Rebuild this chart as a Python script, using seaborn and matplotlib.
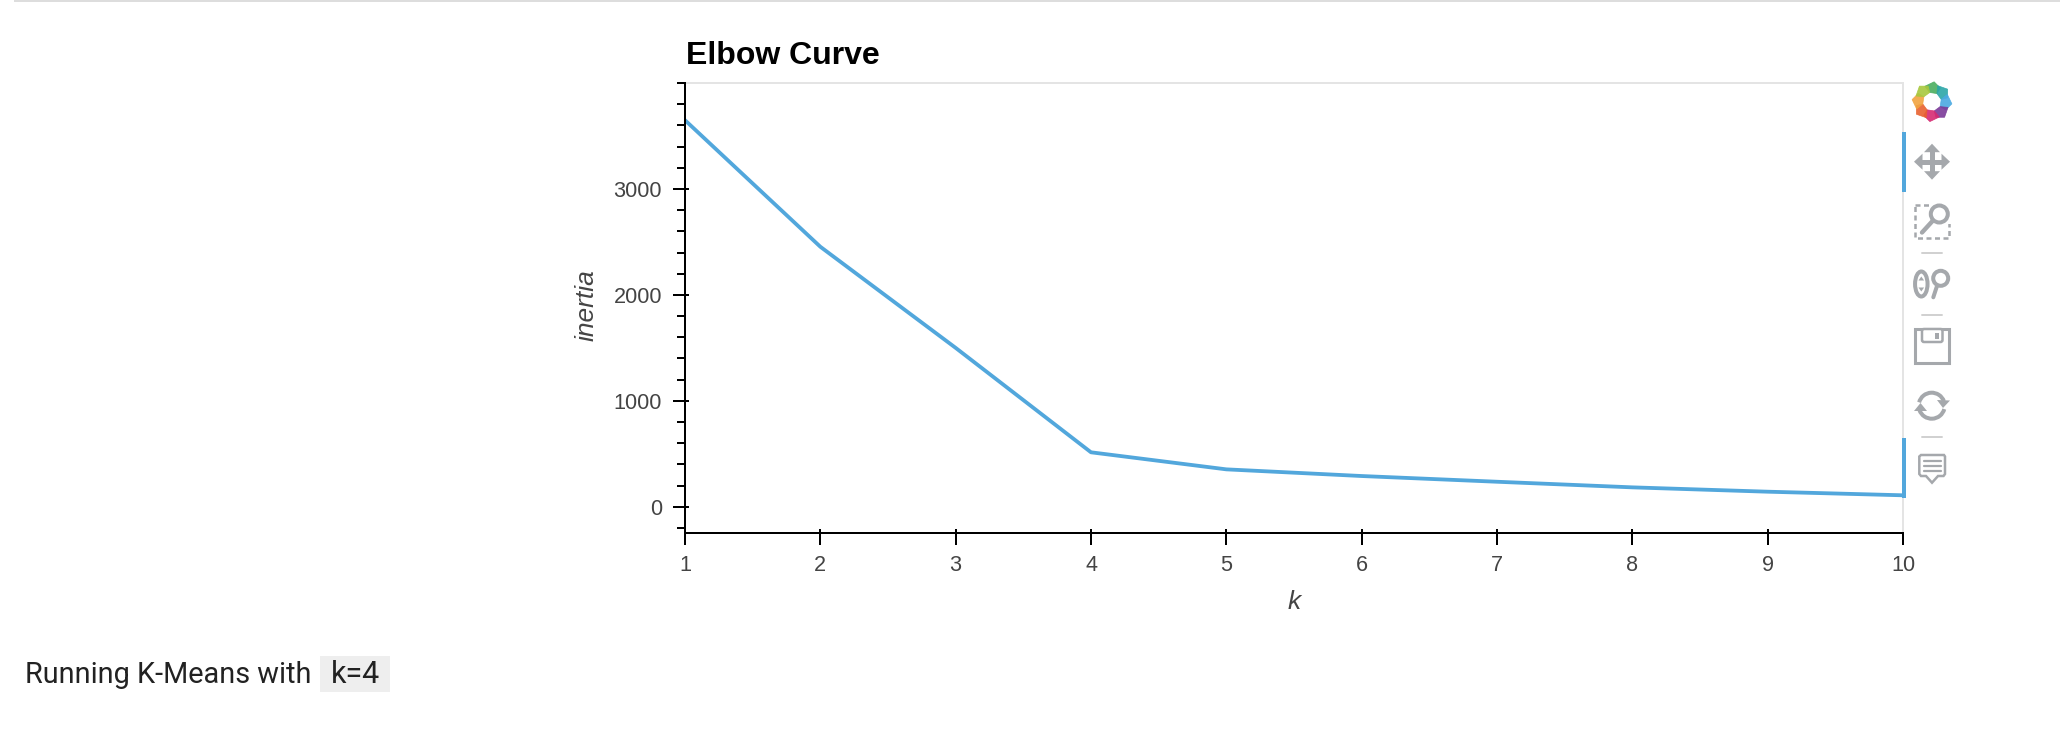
import numpy as np
import pandas as pd
import seaborn as sns
import matplotlib
matplotlib.use("Agg")
import matplotlib.pyplot as plt
from matplotlib.ticker import MultipleLocator
from matplotlib.patches import Rectangle, Circle, FancyBboxPatch, Polygon, Arc, Ellipse

k_values = [1, 2, 3, 4, 5, 6, 7, 8, 9, 10]
inertia_values = [3650, 2455, 1500, 514, 353, 290, 236, 183, 142, 108]
y_ticks = [0, 1000, 2000, 3000]
title_text = "Elbow Curve"
x_label = "k"
y_label = "inertia"

W, H = 2060, 730
sns.set_theme(style="white")
plt.rcParams["font.family"] = ["Liberation Sans", "DejaVu Sans"]

fig = plt.figure(figsize=(W / 100, H / 100), dpi=100, facecolor="white")
PX = 0.72
L, R, T, B = 685, 1903, 82.5, 533
ax = fig.add_axes([L / W, 1 - B / H, (R - L) / W, (B - T) / H])

df = pd.DataFrame({"k": k_values, "inertia": inertia_values})
sns.lineplot(data=df, x="k", y="inertia", ax=ax, color="#52A7DC", linewidth=3.8 * PX, solid_joinstyle="round")

ax.set_xlim(1, 10)
ax.set_ylim(-248, 4006)
ax.set_xticks(k_values)
ax.set_yticks(y_ticks)
ax.yaxis.set_minor_locator(MultipleLocator(200))

for s in ("top", "right"):
    ax.spines[s].set_color("#E4E4E4")
    ax.spines[s].set_linewidth(2 * PX)
for s in ("left", "bottom"):
    ax.spines[s].set_color("black")
    ax.spines[s].set_linewidth(2 * PX)
    ax.spines[s].set_zorder(5)

lab = "#444444"
ax.tick_params(axis="x", which="major", direction="out", length=12 * PX, width=2 * PX, color="black",
               labelsize=15.6, labelcolor=lab, pad=10 * PX, bottom=True)
ax.tick_params(axis="y", which="major", direction="out", length=12 * PX, width=2 * PX, color="black",
               labelsize=15.6, labelcolor=lab, pad=11 * PX, left=True)
ax.tick_params(axis="y", which="minor", direction="out", length=8 * PX, width=2 * PX, color="black", left=True)

secx = ax.secondary_xaxis("bottom")
secx.set_xticks(k_values)
secx.tick_params(direction="in", length=4 * PX, width=2 * PX, color="black", labelbottom=False)
secx.spines["bottom"].set_visible(False)
secy = ax.secondary_yaxis("left")
secy.set_yticks(y_ticks)
secy.tick_params(direction="in", length=4 * PX, width=2 * PX, color="black", labelleft=False)
secy.spines["left"].set_visible(False)

ax.set_xlabel(x_label, style="italic", fontsize=19, color=lab, labelpad=10)
ax.set_ylabel(y_label, style="italic", fontsize=19, color=lab, labelpad=11, y=0.505)
ax.set_title(title_text, loc="left", fontsize=23, fontweight="bold", color="black", pad=13, x=0.0005)

# page furniture drawn in pixel coordinates
ov = fig.add_axes([0, 0, 1, 1], facecolor="none")
ov.set_xlim(0, W)
ov.set_ylim(H, 0)
ov.axis("off")

ov.add_patch(Rectangle((14, 0), W - 14, 2, fc="#DDDDDD", ec="none"))
ov.add_patch(Rectangle((320, 656), 70, 36, fc="#EEEEEE", ec="none"))
ov.text(25, 683, "Running K-Means with", family="Roboto", fontsize=20.8, color="#222222", va="baseline", ha="left")
ov.text(331, 683, "k=4", family="Roboto", fontsize=22, color="#222222", va="baseline", ha="left")

# active tool markers
blue = "#52A7DC"
ov.add_patch(Rectangle((1902, 131.7), 4, 60, fc=blue, ec="none"))
ov.add_patch(Rectangle((1902, 437.7), 4, 60, fc=blue, ec="none"))

# logo
petals = ["#4BAE5F", "#2BA6A8", "#4AA9E2", "#7B3A98", "#D62A72", "#E8622F", "#F1A340", "#A8C83E"]
cx, cy = 1932, 101.7
for i, c in enumerate(petals):
    a0 = np.deg2rad(-90 - 22.5 + 45 * i)
    a1 = a0 + np.deg2rad(45)
    pts = [(cx + 9.5 * np.cos(a0 + 0.15), cy + 9.5 * np.sin(a0 + 0.15)),
           (cx + 17 * np.cos(a0 - 0.05), cy + 17 * np.sin(a0 - 0.05)),
           (cx + 20 * np.cos(a0 + 0.5), cy + 20 * np.sin(a0 + 0.5)),
           (cx + 16 * np.cos(a1 + 0.15), cy + 16 * np.sin(a1 + 0.15)),
           (cx + 9.5 * np.cos(a1 + 0.15), cy + 9.5 * np.sin(a1 + 0.15))]
    ov.add_patch(Polygon(pts, closed=True, fc=c, ec=c, lw=0.5, alpha=0.9))

g = "#A5A8AC"
lw2 = 4 * PX
# pan
cx, cy = 1932, 161.7
ov.plot([cx - 12, cx + 12], [cy, cy], color=g, lw=5 * PX, solid_capstyle="butt")
ov.plot([cx, cx], [cy - 12, cy + 12], color=g, lw=5 * PX, solid_capstyle="butt")
for dx, dy in [(1, 0), (-1, 0), (0, 1), (0, -1)]:
    tip = (cx + 18 * dx, cy + 18 * dy)
    b1 = (cx + 9.5 * dx + 8 * dy, cy + 9.5 * dy + 8 * dx)
    b2 = (cx + 9.5 * dx - 8 * dy, cy + 9.5 * dy - 8 * dx)
    ov.add_patch(Polygon([tip, b1, b2], closed=True, fc=g, ec="none"))
# box zoom
ov.add_patch(Rectangle((1915.3, 205), 33.4, 33.4, fc="none", ec=g, lw=1.8, ls=(0, (2, 1.4))))
ov.add_patch(Rectangle((1929, 202), 22, 22, fc="white", ec="none"))
ov.add_patch(Circle((1939.3, 214), 8.5, fc="white", ec=g, lw=lw2))
ov.plot([1933, 1922], [220.5, 232.5], color=g, lw=lw2 * 1.1, solid_capstyle="round")
# separators
for yy in (252.7, 315, 437):
    ov.plot([1922, 1942], [yy, yy], color="#D0D0D0", lw=1.4)
# wheel zoom
ov.add_patch(Ellipse((1921.3, 284), 12.5, 25, fc="white", ec=g, lw=lw2))
ov.add_patch(Polygon([(1921.3, 276.5), (1918.5, 280.5), (1924.1, 280.5)], fc=g, ec="none"))
ov.add_patch(Polygon([(1921.3, 291.5), (1918.5, 287.5), (1924.1, 287.5)], fc=g, ec="none"))
ov.add_patch(Circle((1940.7, 278.3), 7.5, fc="white", ec=g, lw=lw2))
ov.plot([1937, 1933.3], [286, 297.3], color=g, lw=lw2, solid_capstyle="round")
# save
ov.add_patch(Rectangle((1915.3, 329), 33.4, 33.6, fc="white", ec=g, lw=2.2))
ov.add_patch(FancyBboxPatch((1922, 329), 20.5, 13, boxstyle="round,pad=0,rounding_size=2", fc="white", ec=g, lw=1.8))
ov.add_patch(Rectangle((1934.5, 333), 4.5, 6, fc=g, ec="none"))
# reset
ov.add_patch(Arc((1931.7, 405.7), 26, 26, theta1=195, theta2=340, ec=g, lw=lw2))
ov.add_patch(Arc((1931.7, 405.7), 26, 26, theta1=15, theta2=160, ec=g, lw=lw2))
ov.add_patch(Polygon([(1943, 408), (1950, 400.5), (1937, 400)], fc=g, ec="none"))
ov.add_patch(Polygon([(1920.5, 403), (1914, 411), (1927, 411)], fc=g, ec="none"))
# hover
ov.add_patch(Polygon([(1921, 455), (1944, 455), (1945, 456.5), (1945, 474), (1943.5, 476), (1938, 476),
                      (1932, 482.7), (1926, 476), (1921, 476), (1919.3, 474), (1919.3, 456.5)],
                     closed=True, fc="white", ec=g, lw=1.8))
for yy in (460.5, 465.7, 470.5):
    ov.plot([1923.5, 1941], [yy, yy], color=g, lw=1.6)

fig.savefig("out.png", dpi=100, facecolor="white")
